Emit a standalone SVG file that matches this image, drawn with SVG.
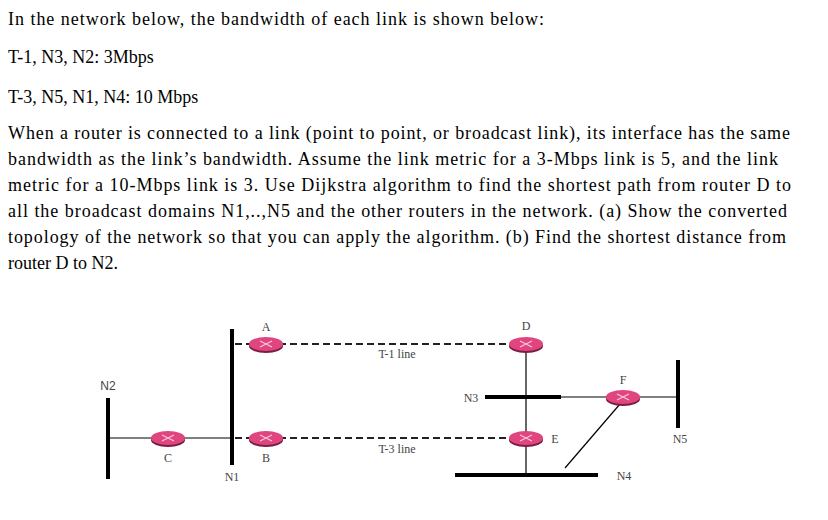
<svg xmlns="http://www.w3.org/2000/svg" width="828" height="520" viewBox="0 0 828 520">
<style>
.t{font-size:18px;fill:#000}
.l{font-size:12px;fill:#444;text-anchor:middle}
.s{font-size:12px;fill:#444;text-anchor:middle}
.bar{stroke:#000;stroke-width:4}
.thin{stroke:#000;stroke-width:1.2}
.dash{stroke:#222;stroke-width:2;stroke-dasharray:7,4}
</style>
<defs>
<g id="rt">
<ellipse cx="0" cy="2" rx="17" ry="7" fill="#7a1d44"/>
<ellipse cx="0" cy="0" rx="17" ry="7" fill="#e0457f"/>
<path d="M-6,-3 L6,3 M-6,3 L6,-3" stroke="#f7c7d8" stroke-width="1.3"/>
</g>
</defs>
<rect width="828" height="520" fill="#fff"/>
<g id="text" font-family="Liberation Serif, Times New Roman, DejaVu Serif, serif">
<text class="t" x="8" y="25" textLength="536">In the network below, the bandwidth of each link is shown below:</text>
<text class="t" x="8" y="63">T-1, N3, N2:  3Mbps</text>
<text class="t" x="8" y="103">T-3, N5, N1, N4:  10 Mbps</text>
<text class="t" x="8" y="139" textLength="782">When a router is connected to a link (point to point, or broadcast link), its interface has the same</text>
<text class="t" x="8" y="165" textLength="770">bandwidth as the link’s bandwidth.  Assume the link metric for a 3-Mbps link is 5, and the link</text>
<text class="t" x="8" y="191" textLength="783">metric for a 10-Mbps link is 3. Use Dijkstra algorithm to find the shortest path from router D to</text>
<text class="t" x="8" y="217" textLength="779">all the broadcast domains N1,..,N5 and the other routers in the network.  (a) Show the converted</text>
<text class="t" x="8" y="243" textLength="778">topology of the network so that you can apply the algorithm. (b) Find the shortest distance from</text>
<text class="t" x="8" y="269">router D to N2.</text>
</g>
<g id="connectors">
<line class="thin" x1="108" y1="438" x2="232" y2="438"/>
<line class="dash" x1="235" y1="344" x2="510" y2="344"/>
<line class="dash" x1="235" y1="438" x2="510" y2="438"/>
<line class="thin" x1="526" y1="344" x2="526" y2="475"/>
<line class="thin" x1="561" y1="397" x2="678" y2="397"/>
<line class="thin" x1="620" y1="404" x2="565" y2="468"/>
</g>
<g font-family="Liberation Serif, Times New Roman, DejaVu Serif, serif">
<g id="N1"><line class="bar" x1="232" y1="329" x2="232" y2="465"/><text class="l" x="232" y="481">N1</text></g>
<g id="N2"><line class="bar" x1="108" y1="398" x2="108" y2="479"/><text class="s" font-family="Liberation Sans, Arial, sans-serif" x="108" y="390">N2</text></g>
<g id="N3"><line class="bar" x1="485" y1="397" x2="561" y2="397"/><text class="l" x="471" y="402">N3</text></g>
<g id="N4"><line class="bar" x1="455" y1="475" x2="598" y2="475"/><text class="l" x="624" y="480">N4</text></g>
<g id="N5"><line class="bar" x1="678" y1="360" x2="678" y2="428"/><text class="l" x="680" y="443">N5</text></g>
<g id="A"><use href="#rt" x="266" y="344"/><text class="l" x="266" y="331">A</text></g>
<g id="B"><use href="#rt" x="266" y="438"/><text class="l" x="266" y="462">B</text></g>
<g id="C"><use href="#rt" x="168" y="438"/><text class="l" x="168" y="462">C</text></g>
<g id="D"><use href="#rt" x="526" y="344"/><text class="l" x="526" y="330">D</text></g>
<g id="E"><use href="#rt" x="526" y="438"/><text class="l" x="555" y="443">E</text></g>
<g id="F"><use href="#rt" x="623" y="397"/><text class="l" x="623" y="384">F</text></g>
<text class="l" x="397" y="358">T-1 line</text>
<text class="l" x="397" y="453">T-3 line</text>
</g>
</svg>
